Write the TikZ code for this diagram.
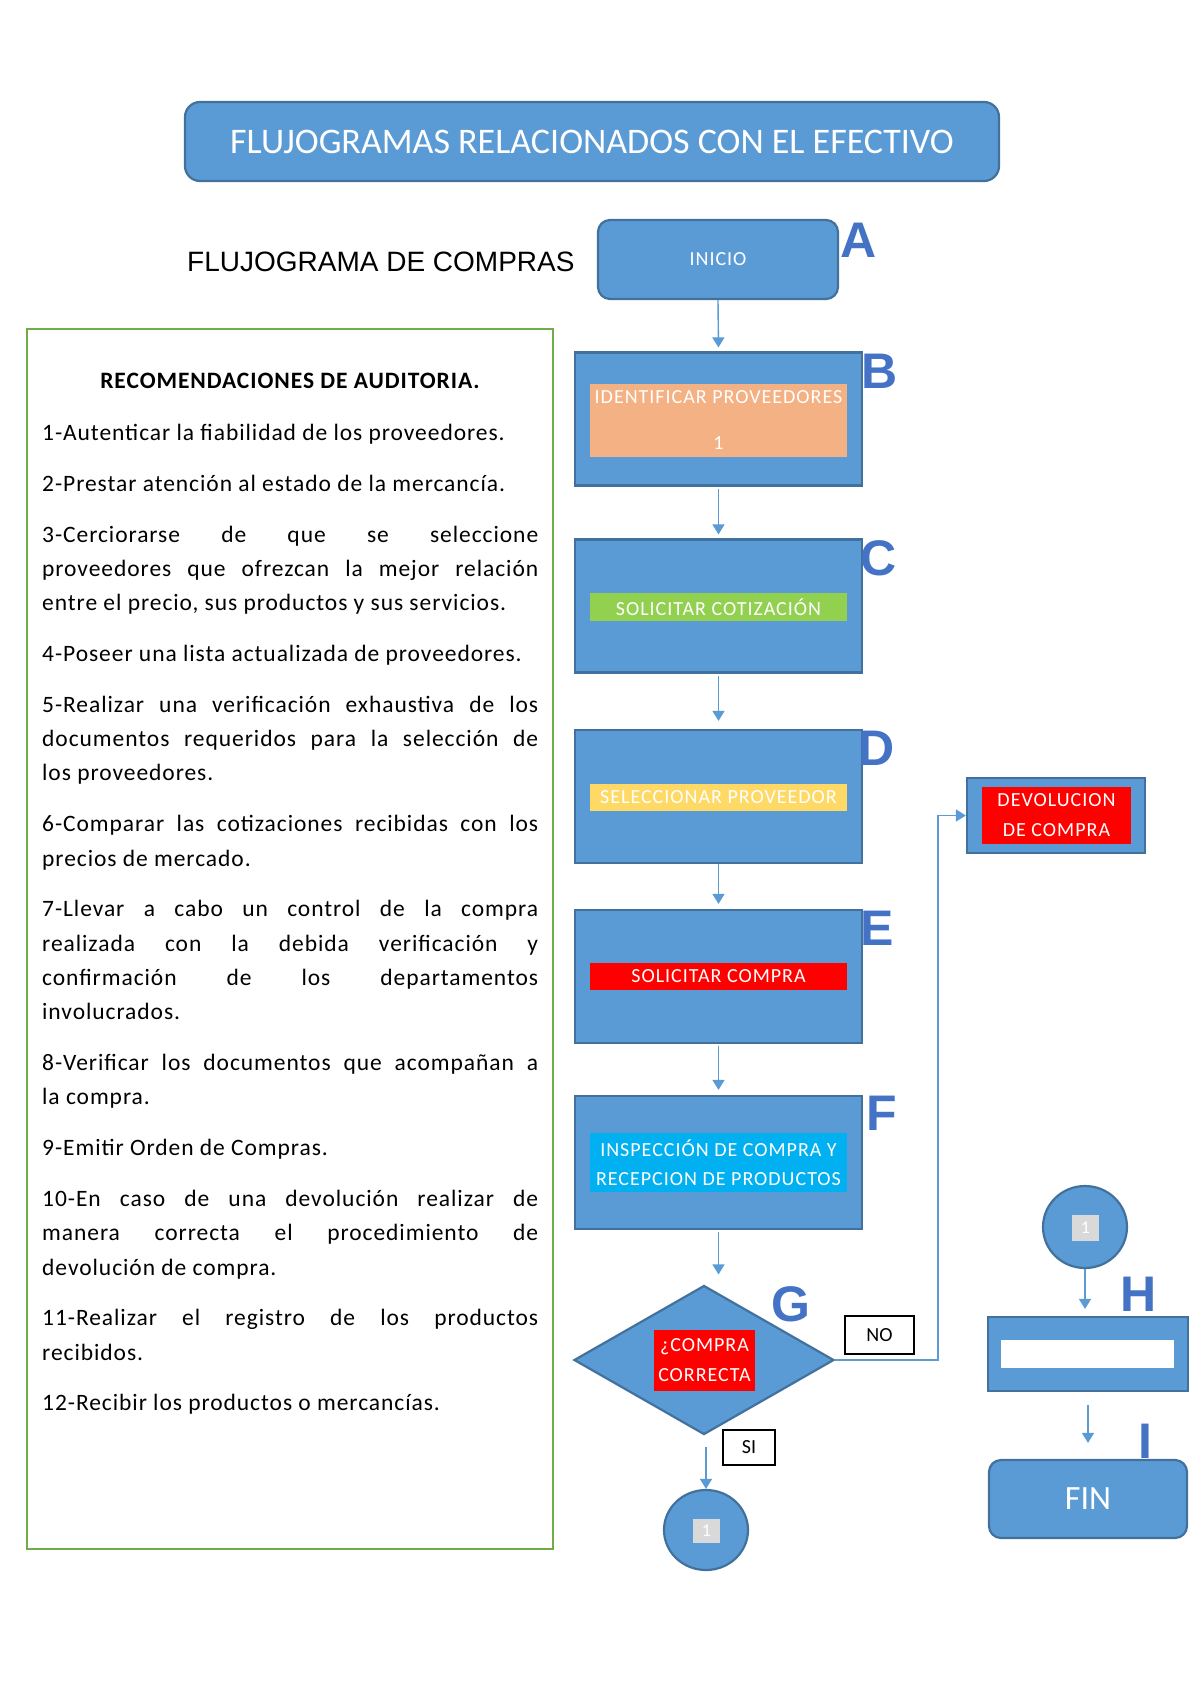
\documentclass[tikz,border=0pt]{standalone}
\usepackage{fontspec}
\setmainfont{Carlito}
\newfontfamily\arialfont{Liberation Sans}
\newfontfamily\bodyfont{Carlito}[LetterSpace=4]
\newfontfamily\innerfont{Carlito}[LetterSpace=5]
\usetikzlibrary{shapes.geometric,arrows.meta}
\definecolor{boxblue}{HTML}{5B9BD5}
\definecolor{boxedge}{HTML}{41719C}
\definecolor{letterblue}{HTML}{4472C4}
\definecolor{arrowblue}{HTML}{5B9BD5}
\definecolor{orangefill}{HTML}{F4B183}
\definecolor{greenfill}{HTML}{92D050}
\definecolor{yellowfill}{HTML}{FFD966}
\definecolor{cyanfill}{HTML}{00B0F0}
\definecolor{redfill}{HTML}{FF0000}
\definecolor{greenedge}{HTML}{70AD47}
\definecolor{grayfill}{HTML}{D9D9D9}
\begin{document}
\begin{tikzpicture}[x=1pt,y=-1pt,
  bluebox/.style={draw=boxedge,fill=boxblue,line width=2.2pt,inner sep=0pt},
  stepbox/.style={bluebox,minimum width=287pt,minimum height=133pt},
  roundbox/.style={bluebox,rounded corners=12pt},
  inbox/.style={inner sep=0pt,text=white,minimum width=257pt,align=center,font=\innerfont\fontsize{20}{24}\selectfont},
  letter/.style={inner sep=0pt,text=letterblue,font=\arialfont\bfseries\fontsize{50}{50}\selectfont},
  flow/.style={draw=arrowblue,line width=1.4pt,-{Triangle[width=12pt,length=10pt]}},
  tag/.style={draw=black,line width=2pt,fill=white,inner sep=0pt,font=\fontsize{20}{24}\selectfont},
  conn/.style={ellipse,bluebox,minimum width=84pt,minimum height=80pt},
  graysq/.style={fill=grayfill,inner sep=0pt,minimum width=27pt,minimum height=24pt,text=white,font=\fontsize{18}{20}\selectfont},
  bodytext/.style={inner sep=0pt,text width=496pt,align=justify,font=\bodyfont\fontsize{23.5}{34.3}\selectfont}
]
\useasboundingbox[fill=white] (0,0) rectangle (1200,1698);

% title
\node[roundbox,rounded corners=15pt,minimum width=814pt,minimum height=79pt,text=white,font=\fontsize{36}{40}\selectfont] (title) at (592,141.5) {FLUJOGRAMAS RELACIONADOS CON EL EFECTIVO};
\node[inner sep=0pt,anchor=west,font=\arialfont\fontsize{28}{32}\selectfont] (subtitle) at (187,262) {FLUJOGRAMA DE COMPRAS};

% recommendations
\node[draw=greenedge,line width=2.5pt,minimum width=526pt,minimum height=1220pt,inner sep=0pt] (recbox) at (290,939) {};
\node[inner sep=0pt,font=\bodyfont\bfseries\fontsize{23.5}{28}\selectfont] (rechead) at (290,381) {RECOMENDACIONES DE AUDITORIA.};
\node[bodytext,anchor=north west] (recbody) at (42,424) {\setlength{\parskip}{16.5pt}\hyphenpenalty=10000\exhyphenpenalty=10000\tolerance=10000
1-Autenticar la fiabilidad de los proveedores.\par
2-Prestar atención al estado de la mercancía.\par
3-Cerciorarse de que se seleccione\linebreak proveedores que ofrezcan la mejor relación\linebreak entre el precio, sus productos y sus servicios.\par
4-Poseer una lista actualizada de proveedores.\par
5-Realizar una verificación exhaustiva de los\linebreak documentos requeridos para la selección de\linebreak los proveedores.\par
6-Comparar las cotizaciones recibidas con los\linebreak precios de mercado.\par
7-Llevar a cabo un control de la compra\linebreak realizada con la debida verificación y\linebreak confirmación de los departamentos\linebreak involucrados.\par
8-Verificar los documentos que acompañan a\linebreak la compra.\par
9-Emitir Orden de Compras.\par
10-En caso de una devolución realizar de\linebreak manera correcta el procedimiento de\linebreak devolución de compra.\par
11-Realizar el registro de los productos\linebreak recibidos.\par
12-Recibir los productos o mercancías.};

% main flow
\node[roundbox,minimum width=240pt,minimum height=79pt,text=white,font=\innerfont\fontsize{20}{24}\selectfont] (inicio) at (718,259.5) {INICIO};
\node[stepbox] (B) at (718.5,419) {};
\node[inbox,fill=orangefill,minimum height=73pt,font=\innerfont\fontsize{20}{46}\selectfont] (Bin) at (718.5,420) {IDENTIFICAR PROVEEDORES\\1};
\node[stepbox] (C) at (718.5,606) {};
\node[inbox,fill=greenfill,minimum height=28pt] (Cin) at (718.5,607) {SOLICITAR COTIZACIÓN};
\node[stepbox] (D) at (718.5,796.5) {};
\node[inbox,fill=yellowfill,minimum height=27pt] (Din) at (718.5,797.5) {SELECCIONAR PROVEEDOR};
\node[stepbox] (E) at (718.5,976.5) {};
\node[inbox,fill=redfill,minimum height=27pt] (Ein) at (718.5,976.5) {SOLICITAR COMPRA};
\node[stepbox] (F) at (718.5,1162.5) {};
\node[inbox,fill=cyanfill,minimum height=59pt,font=\innerfont\fontsize{20}{29}\selectfont] (Fin) at (718.5,1162.5) {INSPECCIÓN DE COMPRA Y\\RECEPCION DE PRODUCTOS};
\node[diamond,bluebox,minimum width=260pt,minimum height=149pt,shape aspect=1.745] (G) at (704,1360) {};
\node[inbox,fill=redfill,minimum width=101pt,minimum height=61pt,font=\innerfont\fontsize{20}{30}\selectfont] (Gin) at (704.5,1360.5) {¿COMPRA\\CORRECTA};

\node[bluebox,minimum width=178pt,minimum height=75pt] (dev) at (1056,815.5) {};
\node[inbox,fill=redfill,minimum width=149pt,minimum height=57pt,font=\innerfont\fontsize{20}{30}\selectfont] (devin) at (1056.5,815.5) {DEVOLUCION\\DE COMPRA};

\node[tag,minimum width=69pt,minimum height=38pt] (no) at (879.5,1335) {NO};
\node[tag,minimum width=52pt,minimum height=35pt] (si) at (749,1447.5) {SI};

\node[conn] (c1) at (706,1530) {};
\node[graysq] (c1in) at (706.5,1531) {1};
\node[conn,minimum height=82pt] (c2) at (1085,1227) {};
\node[graysq,minimum height=26pt] (c2in) at (1085.5,1228) {1};

\node[bluebox,minimum width=200pt,minimum height=74pt] (H) at (1088,1354) {};
\node[fill=white,inner sep=0pt,minimum width=173pt,minimum height=28pt] (Hin) at (1087.5,1354) {};
\node[roundbox,minimum width=198pt,minimum height=78pt,text=white,font=\fontsize{34}{40}\selectfont] (fin) at (1088,1499) {FIN};

% letters
\node[letter] (la) at (859,240) {A};
\node[letter] (lb) at (880,371) {B};
\node[letter] (lc) at (879,558) {C};
\node[letter] (ld) at (877,748) {D};
\node[letter] (le) at (877,928) {E};
\node[letter] (lf) at (882,1113) {F};
\node[letter] (lg) at (791,1304) {G};
\node[letter] (lh) at (1139,1294) {H};
\node[letter] (li) at (1145,1441) {I};

% connectors
\draw[flow,shorten >=4pt] (inicio.south) -- (B.north);
\draw[flow,shorten <=2pt,shorten >=4pt] (B.south) -- (C.north);
\draw[flow,shorten <=2pt,shorten >=8pt] (C.south) -- (D.north);
\draw[flow,shorten >=5pt] (D.south) -- (E.north);
\draw[flow,shorten <=2pt,shorten >=5pt] (E.south) -- (F.north);
\draw[flow,shorten <=2pt,shorten >=10pt] (F.south) -- (F.south |- G.north);
\coordinate (nobend) at (938,1360);
\draw[flow] (G.east) -- (nobend) |- (dev.west);
\draw[flow,shorten <=11pt] (c1.north |- G.south) -- (c1.north);
\draw[flow,shorten >=7pt] (c2.south) -- (c2.south |- H.north);
\draw[flow,shorten <=13pt,shorten >=16pt] (H.south) -- (fin.north);
\end{tikzpicture}
\end{document}
